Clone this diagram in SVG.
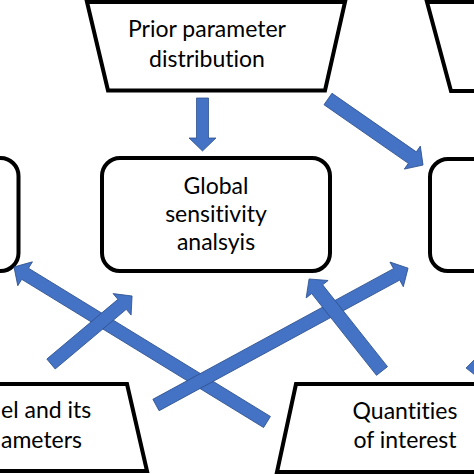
<svg xmlns="http://www.w3.org/2000/svg" width="474" height="474" viewBox="0 0 474 474">
<style>
.shape{fill:#fff;stroke:#000;stroke-width:4;stroke-linejoin:miter}
.lbl{font-family:Lato,"Open Sans","Liberation Sans",sans-serif;font-size:23px;fill:#000;text-anchor:middle;font-variant-ligatures:none}
.arr{fill:#4472C4;stroke:#2F528F;stroke-width:0.8}
</style>
<rect width="474" height="474" fill="#fff"/>
<g id="prior">
<polygon class="shape" points="87,2 345,2 325,90.5 108,90.5"/>
<text class="lbl" x="207" y="37">Prior parameter</text>
<text class="lbl" x="207" y="67">distribution</text>
</g>
<g id="topright">
<polygon class="shape" points="427,2 520,2 520,91 451,91"/>
</g>
<g id="leftbox">
<rect class="shape" x="-100" y="158" width="118.5" height="113" rx="18"/>
</g>
<g id="gsa">
<rect class="shape" x="102" y="158" width="228" height="113" rx="18"/>
<text class="lbl" x="216" y="194">Global</text>
<text class="lbl" x="216" y="222">sensitivity</text>
<text class="lbl" x="216" y="250">analsyis</text>
</g>
<g id="rightbox">
<rect class="shape" x="430" y="159" width="130" height="112" rx="18"/>
</g>
<g id="model">
<polygon class="shape" points="-60,384 127,384 147,471 -60,471"/>
<text class="lbl" x="1" y="418" style="text-anchor:start">el and its</text>
<text class="lbl" x="1" y="448" style="text-anchor:start">ameters</text>
</g>
<g id="qoi">
<polygon class="shape" points="296,384 540,384 540,472 277,472"/>
<text class="lbl" x="405" y="419">Quantities</text>
<text class="lbl" x="405" y="448">of interest</text>
</g>
<g id="connectors">
<polygon class="arr" transform="translate(202.5,98) rotate(90)" points="0,-6 40,-6 40,-13.5 53,0 40,13.5 40,6 0,6"/>
<polygon class="arr" transform="translate(328,99) rotate(34.8)" points="0,-7 102.7,-7 102.7,-14 115.7,0 102.7,14 102.7,7 0,7"/>
<polygon class="arr" transform="translate(267,422) rotate(-148.5)" points="0,-6.5 283.7,-6.5 283.7,-14 296.7,0 283.7,14 283.7,6.5 0,6.5"/>
<polygon class="arr" transform="translate(51,364) rotate(-40)" points="0,-6.5 92.8,-6.5 92.8,-14 105.8,0 92.8,14 92.8,6.5 0,6.5"/>
<polygon class="arr" transform="translate(156,405) rotate(-28.5)" points="0,-6.5 273.8,-6.5 273.8,-14 286.8,0 273.8,14 273.8,6.5 0,6.5"/>
<polygon class="arr" transform="translate(382,371) rotate(-128.4)" points="0,-7 104.4,-7 104.4,-14 117.4,0 104.4,14 104.4,7 0,7"/>
<polygon class="arr" points="466,368 475,359 475,375"/>
</g>
</svg>
